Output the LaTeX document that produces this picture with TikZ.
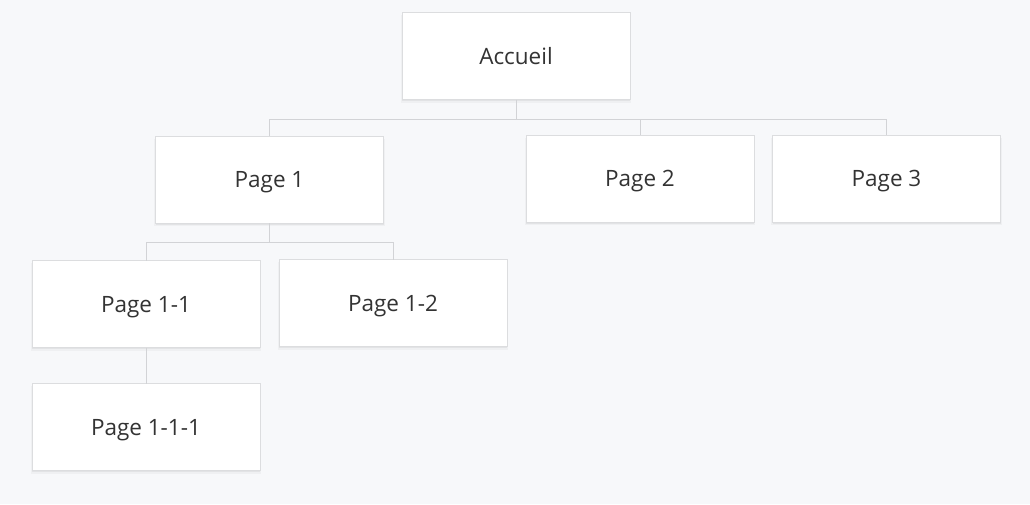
\documentclass[tikz,border=0pt]{standalone}
\usepackage{fontspec}
\setmainfont{Open Sans}
\usetikzlibrary{shadows}
\definecolor{bg}{HTML}{F7F8FA}
\definecolor{boxline}{HTML}{DCDDDF}
\definecolor{conline}{HTML}{D2D3D6}
\definecolor{txt}{HTML}{333333}
\begin{document}
\begin{tikzpicture}[x=1pt,y=-1pt,
  pagebox/.style={draw=boxline, line width=0.8pt, fill=white, minimum width=228pt, minimum height=87pt,
    inner sep=0pt, outer sep=0pt, text=txt, font=\fontsize{22.5}{26}\selectfont,
    text height=16pt, text depth=0pt,
    drop shadow={shadow xshift=0pt, shadow yshift=-3pt, shadow scale=1.01, opacity=0.03, fill=black},
    drop shadow={shadow xshift=0pt, shadow yshift=-1.5pt, opacity=0.05, fill=black}},
  conn/.style={draw=conline, line width=1pt}]
\fill[bg] (0,0) rectangle (1030,504);
\useasboundingbox (0,0) rectangle (1030,504);
\node[pagebox] (acc) at (516,56) {Accueil};
\node[pagebox] (p1) at (269.5,179.5) {Page 1};
\node[pagebox] (p2) at (640,178.5) {Page 2};
\node[pagebox] (p3) at (886.5,178.5) {Page 3};
\node[pagebox] (p11) at (146,304) {Page 1-1};
\node[pagebox] (p12) at (393,303) {Page 1-2};
\node[pagebox] (p111) at (146,427) {Page 1-1-1};
\draw[conn] (acc.south) -- (acc.south |- 0,119) -| (p1.north);
\draw[conn] (acc.south |- 0,119) -| (p2.north);
\draw[conn] (acc.south |- 0,119) -| (p3.north);
\draw[conn] (p1.south) -- (p1.south |- 0,242) -| (p11.north);
\draw[conn] (p1.south |- 0,242) -| (p12.north);
\draw[conn] (p11.south) -- (p111.north);
\end{tikzpicture}
\end{document}
